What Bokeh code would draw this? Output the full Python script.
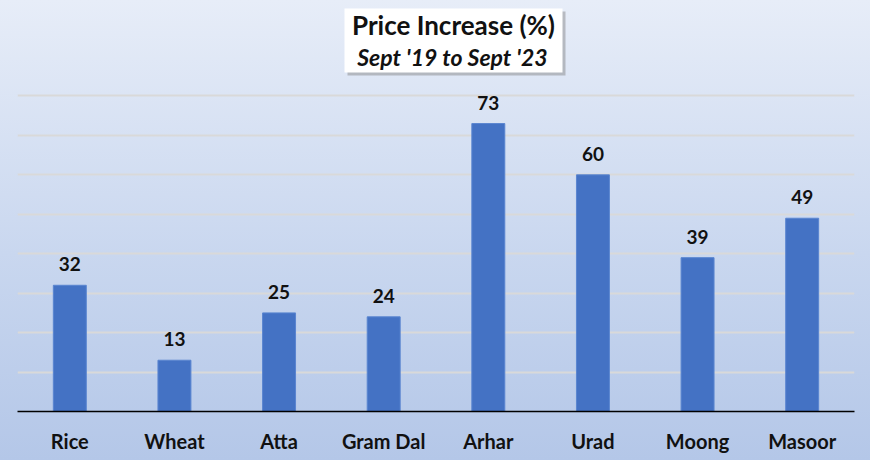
from bokeh.plotting import figure
from bokeh.models import ColumnDataSource, LabelSet, Label, BoxAnnotation, Range1d, FixedTicker
from bokeh.core.properties import value
from bokeh.embed import file_html
from bokeh.resources import INLINE

categories = ["Rice", "Wheat", "Atta", "Gram Dal", "Arhar", "Urad", "Moong", "Masoor"]
increase = [32, 13, 25, 24, 73, 60, 39, 49]
grid_ticks = [10, 20, 30, 40, 50, 60, 70, 80]

FONT = "Lato"
FB = 411  # frame bottom in canvas pixels; screen-unit y measured upward from it
source = ColumnDataSource(data=dict(cat=categories, val=increase, lbl=[str(v) for v in increase]))

p = figure(x_range=categories, y_range=Range1d(0, 104.2), width=870, height=460,
           output_backend="svg", toolbar_location=None,
           min_border_left=17, min_border_right=16, min_border_top=0, min_border_bottom=49)
p.styles = {"background": "linear-gradient(to bottom, #e7edf8 0%, #c9d7ef 55%, #b4c7e8 100%)"}
p.border_fill_color = None
p.background_fill_color = None
p.outline_line_color = None

p.vbar(x="cat", top="val", width=0.315, source=source, fill_color="#4472C4", line_color="#5a85d0", line_width=1)

p.yaxis.visible = False
p.ygrid.ticker = FixedTicker(ticks=grid_ticks)
p.ygrid.grid_line_color = "#d9d9d9"
p.ygrid.grid_line_width = 2
p.xgrid.grid_line_color = None

p.xaxis.axis_line_color = "black"
p.xaxis.axis_line_width = 1.5
p.xaxis.major_tick_line_color = None
p.xaxis.minor_tick_line_color = None
p.xaxis.major_label_text_font = FONT
p.xaxis.major_label_text_font_style = "bold"
p.xaxis.major_label_text_font_size = "20px"
p.xaxis.major_label_text_color = "#111111"
p.xaxis.major_label_standoff = 11

labels = LabelSet(x="cat", y="val", text="lbl", source=source, text_align="center",
                  text_baseline="bottom", y_offset=14, text_font=value(FONT), text_font_style="bold",
                  text_font_size="19px", text_color="#111111")
p.add_layout(labels)

# title box with shadow
p.add_layout(BoxAnnotation(left=330, right=548, top=FB - 11, bottom=FB - 75, left_units="screen", right_units="screen",
                           top_units="screen", bottom_units="screen", fill_color="#7f7f7f", fill_alpha=0.45,
                           line_color=None))
p.add_layout(BoxAnnotation(left=327, right=545, top=FB - 8, bottom=FB - 72, left_units="screen", right_units="screen",
                           top_units="screen", bottom_units="screen", fill_color="white", fill_alpha=1,
                           line_color=None))
p.add_layout(Label(x=436, y=FB - 24, x_units="screen", y_units="screen", text="Price Increase (%)",
                   text_align="center", text_baseline="middle", text_font=FONT, text_font_style="bold",
                   text_font_size="26px", text_color="#111111"))
p.add_layout(Label(x=435, y=FB - 56, x_units="screen", y_units="screen", text="Sept '19 to Sept '23",
                   text_align="center", text_baseline="middle", text_font=FONT, text_font_style="bold italic",
                   text_font_size="23px", text_color="#111111"))

open("out.html", "w").write(file_html(p, INLINE))
